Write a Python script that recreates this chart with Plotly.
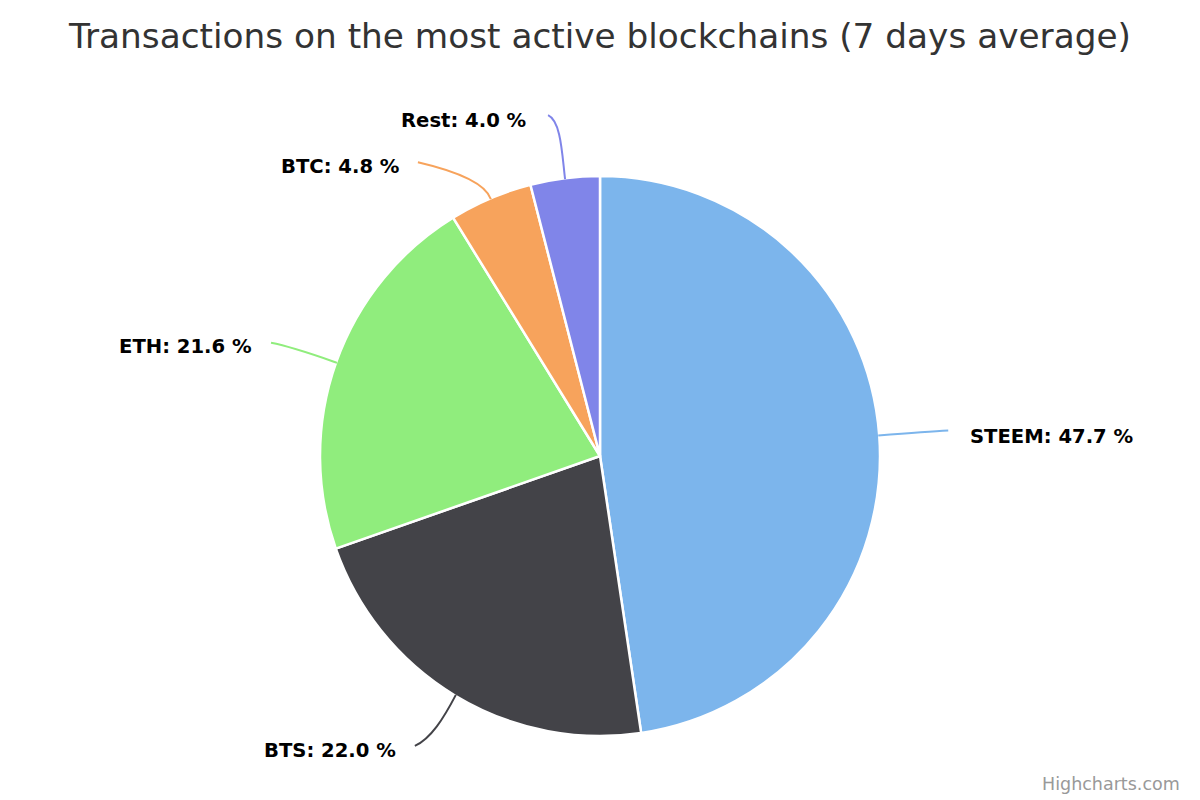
import math
import plotly.graph_objects as go

# values
chains = ["STEEM", "BTS", "ETH", "BTC", "Rest"]
shares = [47.7, 22.0, 21.6, 4.8, 4.0]
colors = ["#7cb5ec", "#434348", "#90ed7d", "#f7a35c", "#8085e9"]

W, H = 1200, 800
CX, CY, R = 600, 456, 280

# connector curves, pixel offsets from the slice edge: control 1, control 2, end
curves = [
    [(25, -2), (50, -4), (70, -5)],
    [(-12, 23), (-25, 44), (-41, 51)],
    [(-20, -7), (-45, -16), (-66, -20)],
    [(-5, -15), (-30, -27), (-73, -37)],
    [(-3, -25), (-4, -58), (-17, -64)],
]
# label anchor, pixel offset from the connector end
label_gap = [(20, 6), (-17, 5), (-17, 4), (-16, 4), (-19, 5)]


def px(x, y):
    return x / W, 1 - y / H


fig = go.Figure()
fig.add_trace(go.Pie(
    labels=chains, values=shares, sort=False, direction="clockwise", rotation=0,
    marker=dict(colors=colors, line=dict(color="white", width=2.5)),
    textinfo="none", hoverinfo="label+percent", showlegend=False,
    domain=dict(x=[(CX - R) / W, (CX + R) / W], y=[1 - (CY + R) / H, 1 - (CY - R) / H]),
))

shapes = []
annotations = []
total = sum(shares)
cum = 0
for name, val, col, curve, gap in zip(chains, shares, colors, curves, label_gap):
    ang = 2 * math.pi * (cum + val / 2) / total
    cum += val
    ex = CX + (R - 1) * math.sin(ang)
    ey = CY - (R - 1) * math.cos(ang)
    pts = [px(ex + dx, ey + dy) for dx, dy in curve]
    x0, y0 = px(ex, ey)
    path = f"M {x0} {y0} C {pts[0][0]} {pts[0][1]} {pts[1][0]} {pts[1][1]} {pts[2][0]} {pts[2][1]}"
    shapes.append(dict(type="path", xref="paper", yref="paper", path=path,
                       line=dict(color=col, width=2)))
    tx = ex + curve[2][0] + gap[0]
    ty = ey + curve[2][1] + gap[1]
    annotations.append(dict(
        x=tx / W, y=1 - ty / H, xref="paper", yref="paper", showarrow=False,
        text=f"<b>{name}: {val:.1f} %</b>",
        xanchor="left" if gap[0] > 0 else "right", yanchor="middle",
        font=dict(family="DejaVu Sans", size=19.6, color="#000000"),
    ))

annotations.append(dict(
    x=1182 / W, y=1 - 784 / H, xref="paper", yref="paper", showarrow=False,
    text="Highcharts.com", xanchor="right", yanchor="middle",
    font=dict(family="DejaVu Sans", size=17.5, color="#999999"),
))

fig.update_layout(
    width=W, height=H,
    margin=dict(l=0, r=0, t=0, b=0),
    paper_bgcolor="white",
    title=dict(text="Transactions on the most active blockchains (7 days average)",
               x=0.5, xanchor="center", y=1 - 36 / H, yanchor="middle",
               font=dict(family="DejaVu Sans", size=34.3, color="#333333")),
    shapes=shapes,
    annotations=annotations,
)
# page body has an 8px default margin, drop it so the chart fills the window
fig.write_html("out.html", config=dict(displayModeBar=False),
               post_script="document.body.style.margin='0';")
